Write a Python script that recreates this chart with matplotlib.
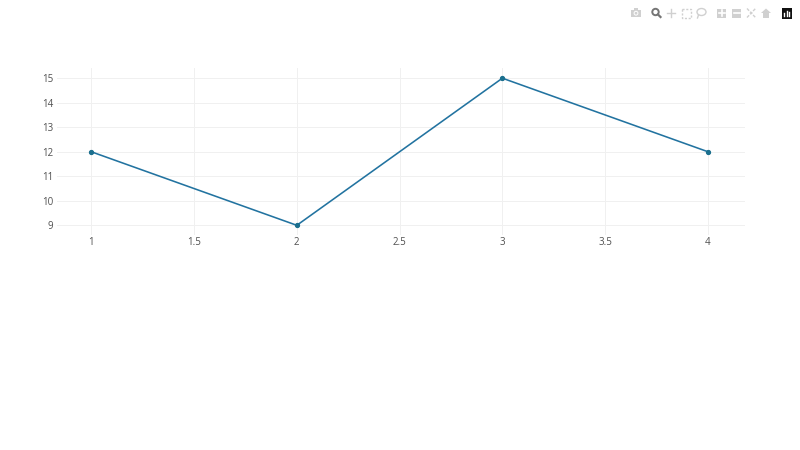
import matplotlib
matplotlib.use("Agg")
import matplotlib.pyplot as plt
from matplotlib.patches import Rectangle, Circle, Polygon, Ellipse
from matplotlib.lines import Line2D

x_values = [1, 2, 3, 4]
y_values = [12, 9, 15, 12]
x_ticks = [1, 1.5, 2, 2.5, 3, 3.5, 4]
x_tick_labels = ["1", "1.5", "2", "2.5", "3", "3.5", "4"]
y_ticks = [9, 10, 11, 12, 13, 14, 15]

W, H = 800, 450
plt.rcParams["font.family"] = ["Open Sans", "DejaVu Sans"]
fig = plt.figure(figsize=(8, 4.5), dpi=100, facecolor="white")
ax = fig.add_axes([57 / W, 1 - 235 / H, (745 - 57) / W, (235 - 68) / H])
ax.set_xlim(1 - 34.2 / 205.4, 4 + 37 / 205.4)
ax.set_ylim(9 - 9.7 / 24.55, 15 + 10.2 / 24.55)
for s in ax.spines.values():
    s.set_visible(False)
ax.set_xticks(x_ticks)
ax.set_xticklabels(x_tick_labels)
ax.set_yticks(y_ticks)
ax.tick_params(length=0, labelsize=7, labelcolor="#505050")
ax.tick_params(axis="x", pad=1.6)
ax.tick_params(axis="y", pad=2.5)
ax.grid(True, color="#f0f0f0", linewidth=0.7)
ax.set_axisbelow(True)
ax.plot(x_values, y_values, color="#2273a0", linewidth=1.15, marker="o",
        markersize=2.8, markerfacecolor="#1b6f8e", markeredgecolor="#1b6f8e",
        clip_on=False)

# mode bar (screen pixels -> figure coordinates)
overlay = fig.add_axes([0, 0, 1, 1], facecolor="none")
overlay.set_xlim(0, W)
overlay.set_ylim(H, 0)
overlay.axis("off")
grey = "#d0d0d0"
dark = "#757575"
# camera
overlay.add_patch(Rectangle((631, 9.5), 10, 7.5, color=grey, lw=0))
overlay.add_patch(Rectangle((634, 8), 4, 2, color=grey, lw=0))
overlay.add_patch(Circle((636, 13.2), 2.4, color="white", lw=0))
overlay.add_patch(Circle((636, 13.2), 1.4, color=grey, lw=0))
# zoom
overlay.add_patch(Circle((655.5, 12), 3.2, fill=False, ec=dark, lw=1.4))
overlay.add_line(Line2D([658, 660.5], [14.5, 17], color=dark, lw=1.6))
# pan
overlay.add_line(Line2D([667, 675], [13, 13], color=grey, lw=1))
overlay.add_line(Line2D([671, 671], [9, 17], color=grey, lw=1))
# box select
overlay.add_patch(Rectangle((682, 8.5), 9, 9, fill=False, ec=grey, lw=1, ls=(0, (1.5, 1.2))))
# lasso
overlay.add_patch(Ellipse((701.5, 12), 9, 7, fill=False, ec=grey, lw=1))
overlay.add_line(Line2D([698.5, 697.5], [15, 18], color=grey, lw=1))
# zoom in
overlay.add_patch(Rectangle((717, 8.5), 9, 9, color=grey, lw=0))
overlay.add_line(Line2D([718.5, 724.5], [13, 13], color="white", lw=1.2))
overlay.add_line(Line2D([721.5, 721.5], [10, 16], color="white", lw=1.2))
# zoom out
overlay.add_patch(Rectangle((732, 8.5), 9, 9, color=grey, lw=0))
overlay.add_line(Line2D([733.5, 739.5], [13, 13], color="white", lw=1.2))
# autoscale
overlay.add_line(Line2D([747, 755.5], [8.5, 17.5], color=grey, lw=1, ls=(0, (2.2, 1))))
overlay.add_line(Line2D([747, 755.5], [17.5, 8.5], color=grey, lw=1, ls=(0, (2.2, 1))))
# home
overlay.add_patch(Polygon([(761, 13), (766, 8.5), (771, 13)], color=grey, lw=0))
overlay.add_patch(Rectangle((763, 13), 6, 4.5, color=grey, lw=0))
# logo
overlay.add_patch(Rectangle((781.5, 8), 10, 10.5, color="#111111", lw=0))
overlay.add_line(Line2D([784, 784], [13, 16], color="white", lw=1))
overlay.add_line(Line2D([786.5, 786.5], [11, 16], color="white", lw=1))
overlay.add_line(Line2D([789, 789], [12, 16], color="white", lw=1))

fig.savefig("out.png", dpi=100, facecolor="white")
